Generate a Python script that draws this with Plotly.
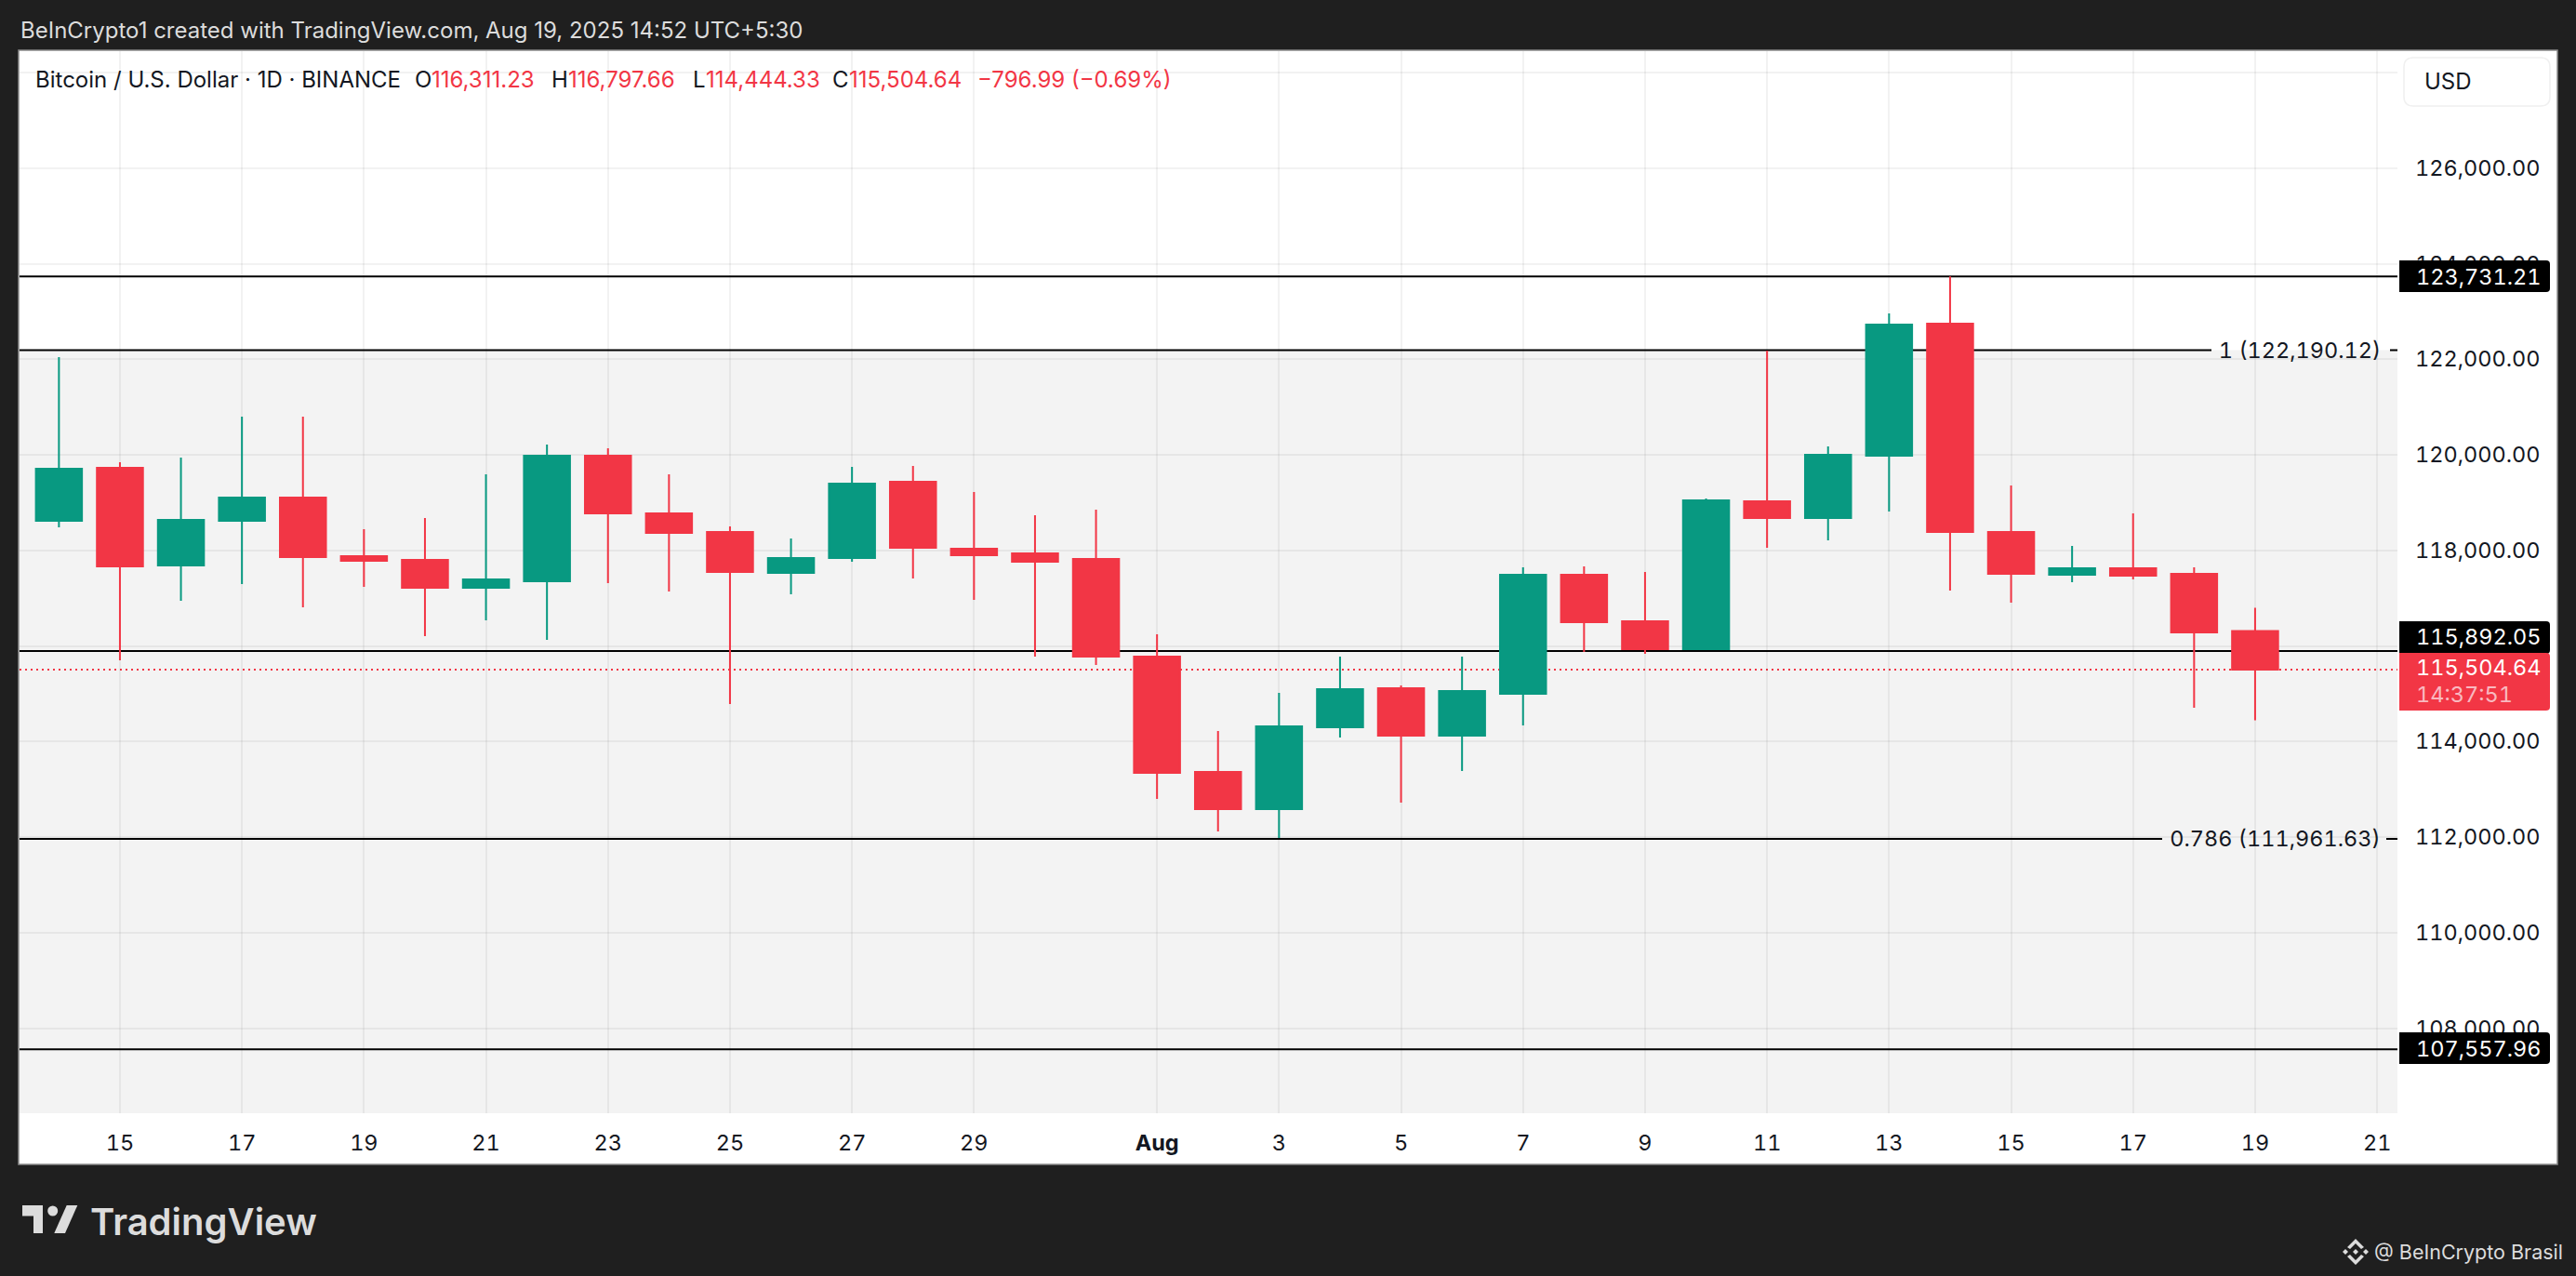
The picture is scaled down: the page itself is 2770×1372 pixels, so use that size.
#!/usr/bin/env python3
"""BTC/USD daily candles with support and resistance levels, TradingView style."""

import pandas as pd
import plotly.graph_objects as go

# Candle data
dates = pd.date_range('2025-07-14', '2025-08-19').strftime('%Y-%m-%d').tolist()
opens = [118618, 119728, 117684, 118618, 119105, 117879, 117801, 117217, 117353, 119981,
         118774, 118385, 117528, 117839, 119436, 118034, 117937, 117820, 115776, 113363,
         112584, 114297, 115115, 114122, 114998, 117490, 116516, 115933, 119027, 118677,
         119981, 122745, 118385, 117490, 117626, 117509, 116311.23]
highs = [122044, 119845, 119942, 120798, 120798, 118443, 118677, 119592, 120214, 120137,
         119592, 118502, 118248, 119747, 119766, 119221, 118735, 118852, 116243, 114219,
         115017, 115776, 115173, 115776, 117645, 117665, 117548, 119086, 122180, 120176,
         122959, 123731, 119358, 118093, 118774, 117645, 116797.66]
lows = [118482, 115699, 116945, 117295, 116808, 117236, 116205, 116536, 116127, 117314,
        117139, 114784, 117080, 117762, 117411, 116964, 115776, 115601, 112798, 112117,
        111981, 114083, 112721, 113382, 114337, 115874, 115835, 115933, 118054, 118210,
        118813, 117159, 116906, 117334, 117392, 114706, 114444.33]
closes = [119708, 117665, 118638, 119105, 117859, 117781, 117217, 117392, 119981, 118774,
          118365, 117548, 117839, 119397, 118054, 117898, 117762, 115776, 113343, 112584,
          114317, 115095, 114122, 115056, 117490, 116497, 115933, 119047, 118677, 120000,
          122725, 118385, 117509, 117626, 117470, 116283, 115504.64]

# Horizontal levels
tagged_levels = [123731.21, 115892.05, 107557.96]
fib_levels = [1, 0.786]
fib_prices = [122190.12, 111961.63]

# Header change, as printed on the chart
change_text = '−796.99 (−0.69%)'
countdown = '14:37:51'

# Axis ticks
y_ticks = [108000, 110000, 112000, 114000, 116000, 118000, 120000, 122000, 124000, 126000, 128000]
x_ticks = ['2025-07-15', '2025-07-17', '2025-07-19', '2025-07-21', '2025-07-23', '2025-07-25',
           '2025-07-27', '2025-07-29', '2025-08-01', '2025-08-03', '2025-08-05', '2025-08-07',
           '2025-08-09', '2025-08-11', '2025-08-13', '2025-08-15', '2025-08-17', '2025-08-19',
           '2025-08-21']
x_labels = ['15', '17', '19', '21', '23', '25', '27', '29', '<b>Aug</b>', '3', '5', '7',
            '9', '11', '13', '15', '17', '19', '21']

UP = '#089981'
DOWN = '#F23645'
INK = '#131722'
FRAME = '#1f1f1f'
WM = '#dcdcdc'
FONT = 'Inter'
SCALE_SIZE = 23.5

W, H = 2770, 1372
L, R, T, B = 21, 2578, 55, 1197


def px(x):
    return (x - L) / (R - L)


def py(y):
    return (B - y) / (B - T)


def tag_path(x0, x1, y0, y1, r=4):
    """Label box with rounded right corners, in paper coordinates."""
    return (f'M {px(x0)},{py(y0)} L {px(x1 - r)},{py(y0)} Q {px(x1)},{py(y0)} {px(x1)},{py(y0 + r)} '
            f'L {px(x1)},{py(y1 - r)} Q {px(x1)},{py(y1)} {px(x1 - r)},{py(y1)} L {px(x0)},{py(y1)} Z')


def round_rect(x0, x1, y0, y1, r):
    return (f'M {px(x0 + r)},{py(y0)} L {px(x1 - r)},{py(y0)} Q {px(x1)},{py(y0)} {px(x1)},{py(y0 + r)} '
            f'L {px(x1)},{py(y1 - r)} Q {px(x1)},{py(y1)} {px(x1 - r)},{py(y1)} '
            f'L {px(x0 + r)},{py(y1)} Q {px(x0)},{py(y1)} {px(x0)},{py(y1 - r)} '
            f'L {px(x0)},{py(y0 + r)} Q {px(x0)},{py(y0)} {px(x0 + r)},{py(y0)} Z')


def poly(points):
    return 'M ' + ' L '.join(f'{px(x)},{py(y)}' for x, y in points) + ' Z'


def text_at(x, y, text, color=INK, size=24, anchor='left', weight=None):
    """Text placed by page pixel."""
    return dict(xref='paper', yref='paper', x=px(x), y=py(y), text=text, showarrow=False,
                xanchor=anchor, yanchor='middle', align=anchor,
                font=dict(family=FONT, size=size, color=color, weight=weight))


def hline(price, x0=L, x1=R):
    return dict(type='line', xref='paper', yref='y', x0=px(x0), x1=px(x1), y0=price, y1=price,
                layer='below', line=dict(color='#000000', width=2))


fig = go.Figure()

fig.add_trace(go.Candlestick(
    x=dates, open=opens, high=highs, low=lows, close=closes,
    increasing=dict(line=dict(color=UP, width=2), fillcolor=UP),
    decreasing=dict(line=dict(color=DOWN, width=2), fillcolor=DOWN),
    whiskerwidth=0, showlegend=False,
))

shapes = [
    # white chart panel inside the dark frame
    dict(type='rect', xref='paper', yref='paper', x0=px(20), x1=px(2750), y0=py(54), y1=py(1252),
         layer='below', fillcolor='#ffffff', line=dict(color='#8a8a8a', width=1.5)),
    # grey zone from the 1 fib level down
    dict(type='rect', xref='paper', yref='y', x0=0, x1=1, y0=fib_prices[0], y1=106219,
         layer='below', fillcolor='#f3f3f3', line=dict(width=0)),
    dict(type='line', xref='paper', yref='y', x0=0, x1=1, y0=closes[-1], y1=closes[-1],
         layer='below', line=dict(color=DOWN, width=2, dash='2px,4px')),
]
shapes += [hline(p) for p in tagged_levels]
shapes += [hline(fib_prices[0], L, 2378), hline(fib_prices[0], 2570, R),
           hline(fib_prices[1], L, 2325), hline(fib_prices[1], 2566, R)]

# price labels on the scale
shapes += [
    dict(type='path', xref='paper', yref='paper', path=tag_path(2580, 2742, 280, 314),
         fillcolor='#000000', line=dict(width=0), layer='above'),
    dict(type='path', xref='paper', yref='paper', path=tag_path(2580, 2742, 668, 703),
         fillcolor='#000000', line=dict(width=0), layer='above'),
    dict(type='path', xref='paper', yref='paper', path=tag_path(2580, 2742, 702, 764),
         fillcolor=DOWN, line=dict(width=0), layer='above'),
    dict(type='path', xref='paper', yref='paper', path=tag_path(2580, 2742, 1110, 1144),
         fillcolor='#000000', line=dict(width=0), layer='above'),
    dict(type='path', xref='paper', yref='paper', path=round_rect(2585, 2742, 62, 114, 10),
         fillcolor='#ffffff', line=dict(color='#f0f0f0', width=1.5), layer='above'),
]

# TradingView mark and exchange mark in the frame
logo = [
    poly([(24, 1296), (46, 1296), (46, 1326), (36, 1326), (36, 1307.5), (24, 1307.5)]),
    poly([(71.7, 1296), (83.3, 1296), (70, 1326), (58.3, 1326)]),
]
shapes += [dict(type='path', xref='paper', yref='paper', path=p, fillcolor=WM, line=dict(width=0), layer='above')
           for p in logo]
shapes.append(dict(type='circle', xref='paper', yref='paper', x0=px(51.2), x1=px(62.2), y0=py(1307.5), y1=py(1296.5),
                   fillcolor=WM, line=dict(width=0), layer='above'))
cx, cy = 2533, 1346
for dx, dy in [(0, 0), (-11, 0), (11, 0)]:
    shapes.append(dict(type='path', xref='paper', yref='paper', fillcolor=WM, line=dict(width=0), layer='above',
                       path=poly([(cx + dx - 3, cy + dy), (cx + dx, cy + dy - 3), (cx + dx + 3, cy + dy), (cx + dx, cy + dy + 3)])))
for sign in (-1, 1):
    shapes.append(dict(type='path', xref='paper', yref='paper', fillcolor=WM, line=dict(width=0), layer='above',
                       path=poly([(cx - 9, cy + sign * 5), (cx, cy + sign * 14), (cx + 9, cy + sign * 5),
                                  (cx + 6, cy + sign * 3), (cx, cy + sign * 9), (cx - 6, cy + sign * 3)])))

header_notes = [
    text_at(20, 33, 'BeInCrypto1 created with TradingView.com, Aug 19, 2025 14:52 UTC+5:30', color=WM),
    text_at(36, 86, 'Bitcoin / U.S. Dollar · 1D · BINANCE'),
    text_at(444, 86, 'O'),
    text_at(462, 86, f'{opens[-1]:,.2f}', color=DOWN),
    text_at(591, 86, 'H'),
    text_at(609, 86, f'{highs[-1]:,.2f}', color=DOWN),
    text_at(743, 86, 'L'),
    text_at(757, 86, f'{lows[-1]:,.2f}', color=DOWN),
    text_at(893, 86, 'C'),
    text_at(911, 86, f'{closes[-1]:,.2f}', color=DOWN),
    text_at(1049, 86, change_text, color=DOWN),
    text_at(95, 1313, 'TradingView', color=WM, size=40, weight=600),
    text_at(2551, 1346, '@ BeInCrypto Brasil', color=WM, size=21.5),
]
scale_notes = [
    text_at(2605, 87, 'USD'),
    text_at(2596, 297, f'{tagged_levels[0]:,.2f}', color='#ffffff', size=SCALE_SIZE),
    text_at(2596, 684, f'{tagged_levels[1]:,.2f}', color='#ffffff', size=SCALE_SIZE),
    text_at(2596, 718, f'{closes[-1]:,.2f}', color='#ffffff', size=SCALE_SIZE),
    text_at(2596, 746, countdown, color='#f9b9c0', size=SCALE_SIZE),
    text_at(2596, 1127, f'{tagged_levels[2]:,.2f}', color='#ffffff', size=SCALE_SIZE),
    text_at(2562, 376, f'{fib_levels[0]} ({fib_prices[0]:,.2f})', anchor='right', size=SCALE_SIZE),
    text_at(2562, 901, f'{fib_levels[1]} ({fib_prices[1]:,.2f})', anchor='right', size=SCALE_SIZE),
]

fig.update_layout(
    width=W, height=H,
    margin=dict(l=L, r=W - R, t=T, b=H - B, autoexpand=False),
    paper_bgcolor=FRAME, plot_bgcolor='#ffffff',
    boxgap=0.245, boxgroupgap=0, showlegend=False,
    font=dict(family=FONT, size=24, color=INK),
    shapes=shapes, annotations=header_notes + scale_notes,
    xaxis=dict(
        type='date', range=['2025-07-13 08:30', '2025-08-21 08:00'], rangeslider=dict(visible=False),
        tickmode='array', tickvals=x_ticks, ticktext=x_labels, tickangle=0,
        showgrid=True, gridcolor='rgba(0,0,0,0.05)', gridwidth=2,
        zeroline=False, showline=False, ticks='', ticklabelstandoff=15,
        tickfont=dict(family=FONT, size=SCALE_SIZE, color=INK),
    ),
    yaxis=dict(
        range=[106219, 128448], side='right',
        tickmode='array', tickvals=y_ticks,
        ticktext=[f'{v:,.2f}' if v < 128000 else '' for v in y_ticks],
        showgrid=True, gridcolor='rgba(0,0,0,0.05)', gridwidth=2,
        zeroline=False, showline=False, ticks='', ticklabelstandoff=18,
        tickfont=dict(family=FONT, size=SCALE_SIZE, color=INK),
    ),
)

# No body margin, square candle corners, tabular digits on the price scale
page_fix = f"""
document.body.style.margin = '0';
var gd = document.getElementById('{{plot_id}}');
gd.querySelectorAll('.boxes path').forEach(function (p) {{ p.style.strokeLinejoin = 'miter'; }});
gd.querySelectorAll('.ytick text, .xtick text').forEach(function (t) {{ t.style.fontVariantNumeric = 'tabular-nums'; }});
gd.querySelectorAll('.annotation').forEach(function (a) {{
    if (Number(a.getAttribute('data-index')) >= {len(header_notes)}) {{
        a.querySelector('text').style.fontVariantNumeric = 'tabular-nums';
    }}
}});
"""

fig.write_html("out.html", post_script=page_fix, config=dict(displayModeBar=False))
